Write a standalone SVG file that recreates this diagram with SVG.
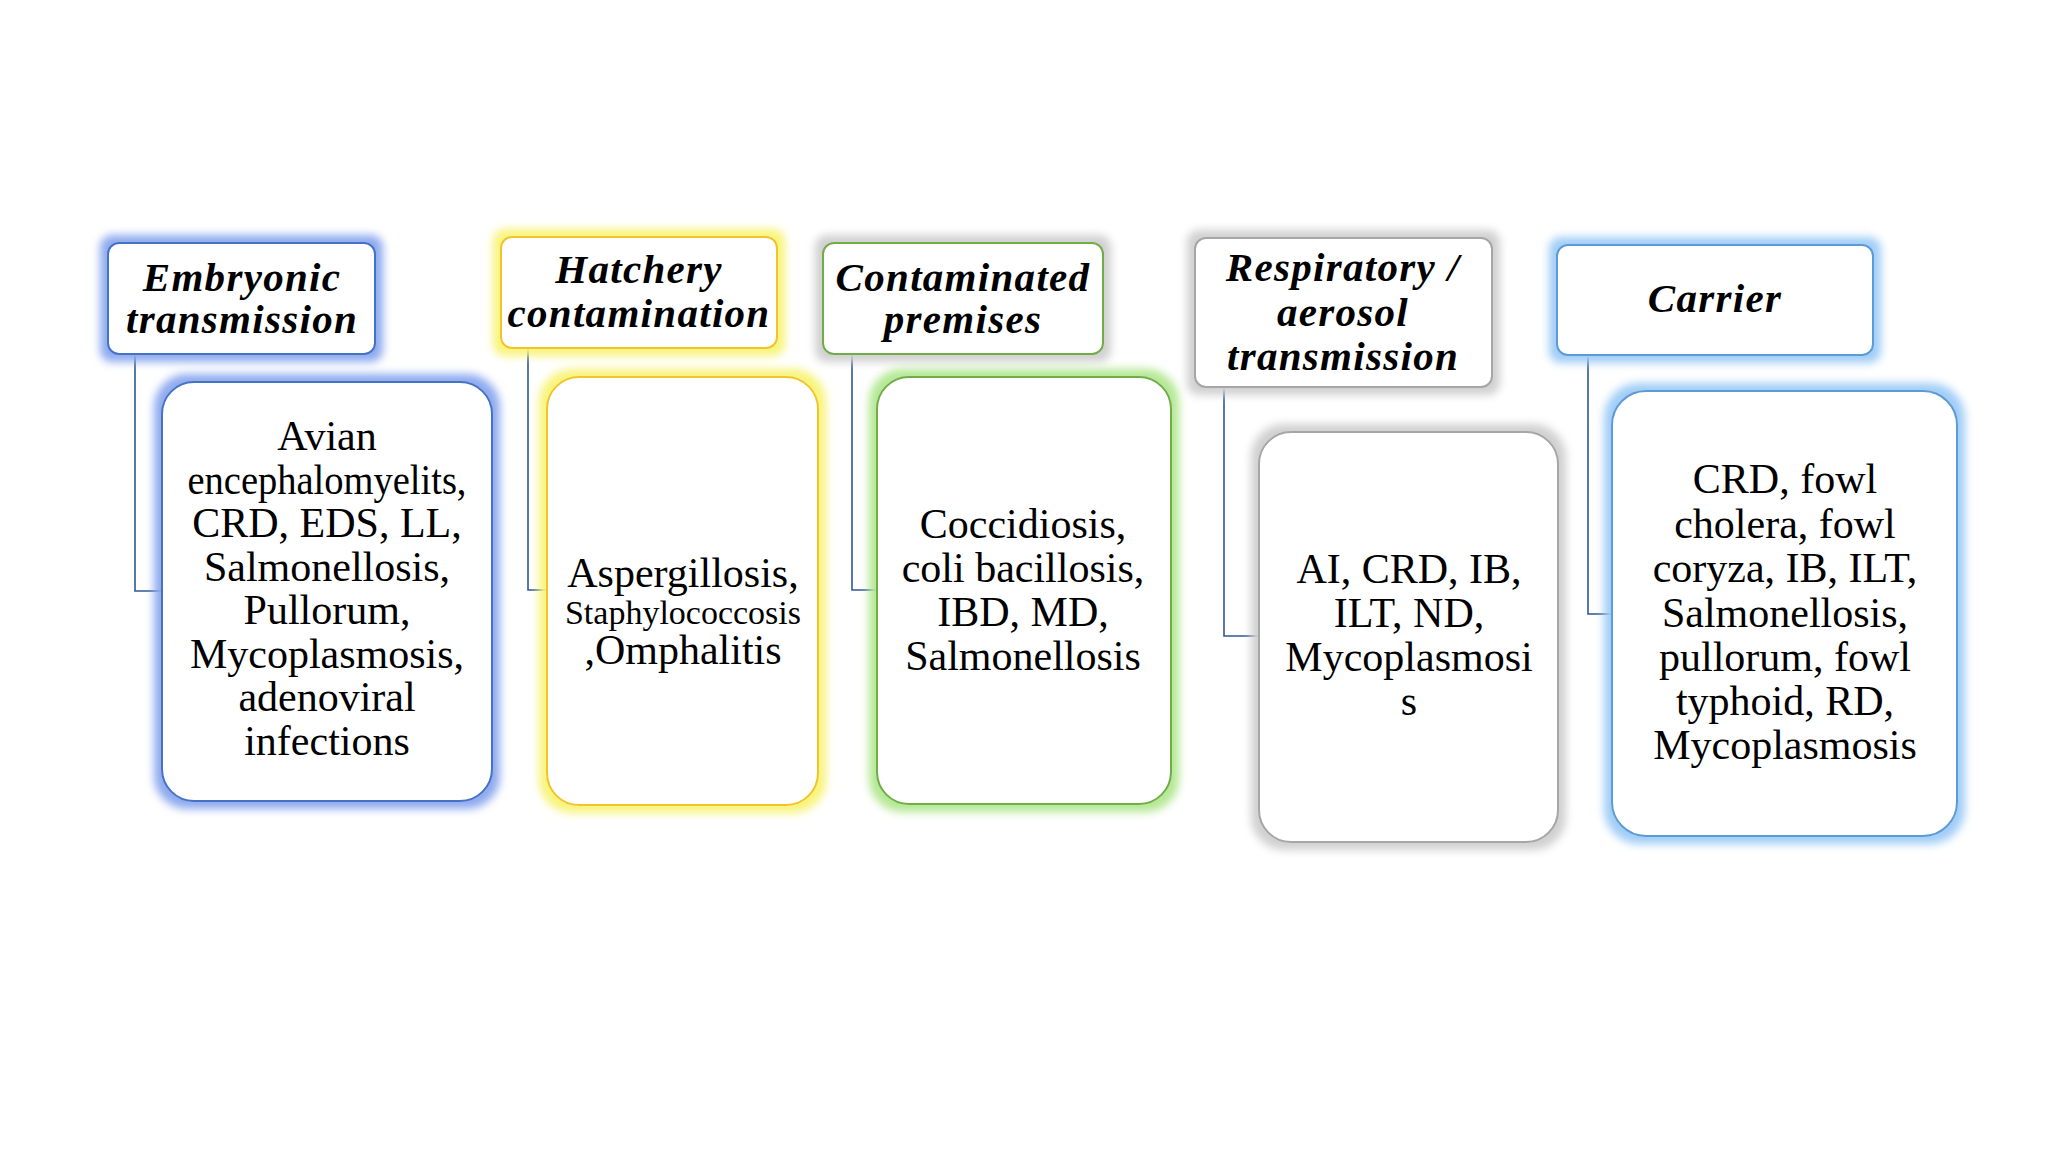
<svg xmlns="http://www.w3.org/2000/svg" width="2048" height="1152" viewBox="0 0 2048 1152">
<defs>
<filter id="gBlue" x="-20%" y="-20%" width="140%" height="140%">
<feMorphology in="SourceAlpha" operator="dilate" radius="7" result="d"/>
<feGaussianBlur in="d" stdDeviation="4" result="b"/>
<feFlood flood-color="#8eaaef"/>
<feComposite in2="b" operator="in" result="g"/>
<feMerge><feMergeNode in="g"/><feMergeNode in="SourceGraphic"/></feMerge>
</filter>
<filter id="gYellow" x="-20%" y="-20%" width="140%" height="140%">
<feMorphology in="SourceAlpha" operator="dilate" radius="7" result="d"/>
<feGaussianBlur in="d" stdDeviation="4" result="b"/>
<feFlood flood-color="#f8f47a"/>
<feComposite in2="b" operator="in" result="g"/>
<feMerge><feMergeNode in="g"/><feMergeNode in="SourceGraphic"/></feMerge>
</filter>
<filter id="gGreen" x="-20%" y="-20%" width="140%" height="140%">
<feMorphology in="SourceAlpha" operator="dilate" radius="7" result="d"/>
<feGaussianBlur in="d" stdDeviation="4" result="b"/>
<feFlood flood-color="#b4e894"/>
<feComposite in2="b" operator="in" result="g"/>
<feMerge><feMergeNode in="g"/><feMergeNode in="SourceGraphic"/></feMerge>
</filter>
<filter id="gGray" x="-20%" y="-20%" width="140%" height="140%">
<feMorphology in="SourceAlpha" operator="dilate" radius="7" result="d"/>
<feGaussianBlur in="d" stdDeviation="4" result="b"/>
<feFlood flood-color="#d0d0d0"/>
<feComposite in2="b" operator="in" result="g"/>
<feMerge><feMergeNode in="g"/><feMergeNode in="SourceGraphic"/></feMerge>
</filter>
<filter id="gSky" x="-20%" y="-20%" width="140%" height="140%">
<feMorphology in="SourceAlpha" operator="dilate" radius="7" result="d"/>
<feGaussianBlur in="d" stdDeviation="4" result="b"/>
<feFlood flood-color="#a0cdf7"/>
<feComposite in2="b" operator="in" result="g"/>
<feMerge><feMergeNode in="g"/><feMergeNode in="SourceGraphic"/></feMerge>
</filter>
</defs>
<style>
.hd{fill:#fff;stroke-width:2}
.bd{fill:#fff;stroke-width:2}
.ht{font-family:"Liberation Serif","Times New Roman",serif;font-weight:bold;font-style:italic;font-size:41px;letter-spacing:1.3px;text-anchor:middle;fill:#000}
.bt{font-family:"Liberation Serif","Times New Roman",serif;font-size:42px;text-anchor:middle;fill:#000}
.sm{font-size:34px}
.cn{fill:none;stroke:#2f5597;stroke-width:1.6}
</style>
<rect width="2048" height="1152" fill="#fff"/>
<g id="connectors">
<path class="cn" d="M135 354V591H162"/>
<path class="cn" d="M528 348V590H547"/>
<path class="cn" d="M852 354V590H877"/>
<path class="cn" d="M1224 387V636H1259"/>
<path class="cn" d="M1588 355V614H1612"/>
</g>
<g id="embryonic-header">
<rect class="hd" x="108" y="243" width="267" height="111" rx="11" stroke="#4472c4" filter="url(#gBlue)"/>
<text class="ht" x="242" y="291">Embryonic</text>
<text class="ht" x="242" y="333">transmission</text>
</g>
<g id="embryonic-body">
<rect class="bd" x="162" y="382" width="330" height="419" rx="32" stroke="#4472c4" filter="url(#gBlue)"/>
<text class="bt" x="327" y="450">Avian</text>
<text class="bt" x="327" y="493.5" textLength="279" lengthAdjust="spacingAndGlyphs">encephalomyelits,</text>
<text class="bt" x="327" y="537">CRD, EDS, LL,</text>
<text class="bt" x="327" y="580.5">Salmonellosis,</text>
<text class="bt" x="327" y="624">Pullorum,</text>
<text class="bt" x="327" y="667.5">Mycoplasmosis,</text>
<text class="bt" x="327" y="711">adenoviral</text>
<text class="bt" x="327" y="754.5">infections</text>
</g>
<g id="hatchery-header">
<rect class="hd" x="501" y="237" width="276" height="111" rx="11" stroke="#f2c42b" filter="url(#gYellow)"/>
<text class="ht" x="639" y="283">Hatchery</text>
<text class="ht" x="639" y="327">contamination</text>
</g>
<g id="hatchery-body">
<rect class="bd" x="547" y="377" width="271" height="428" rx="32" stroke="#f2c42b" filter="url(#gYellow)"/>
<text class="bt" x="683" y="587">Aspergillosis,</text>
<text class="bt sm" x="683" y="624">Staphylococcosis</text>
<text class="bt" x="683" y="664">,Omphalitis</text>
</g>
<g id="premises-header">
<rect class="hd" x="823" y="243" width="280" height="111" rx="11" stroke="#70ad47" filter="url(#gGray)"/>
<text class="ht" x="963" y="291">Contaminated</text>
<text class="ht" x="963" y="333">premises</text>
</g>
<g id="premises-body">
<rect class="bd" x="877" y="377" width="294" height="427" rx="32" stroke="#70ad47" filter="url(#gGreen)"/>
<text class="bt" x="1023" y="538">Coccidiosis,</text>
<text class="bt" x="1023" y="582">coli bacillosis,</text>
<text class="bt" x="1023" y="626">IBD, MD,</text>
<text class="bt" x="1023" y="670">Salmonellosis</text>
</g>
<g id="respiratory-header">
<rect class="hd" x="1195" y="238" width="297" height="149" rx="11" stroke="#a6a6a6" filter="url(#gGray)"/>
<text class="ht" x="1343" y="281">Respiratory /</text>
<text class="ht" x="1343" y="326">aerosol</text>
<text class="ht" x="1343" y="370">transmission</text>
</g>
<g id="respiratory-body">
<rect class="bd" x="1259" y="432" width="299" height="410" rx="32" stroke="#a6a6a6" filter="url(#gGray)"/>
<text class="bt" x="1409" y="583">AI, CRD, IB,</text>
<text class="bt" x="1409" y="627">ILT, ND,</text>
<text class="bt" x="1409" y="671">Mycoplasmosi</text>
<text class="bt" x="1409" y="715">s</text>
</g>
<g id="carrier-header">
<rect class="hd" x="1557" y="245" width="316" height="110" rx="11" stroke="#5b9bd5" filter="url(#gSky)"/>
<text class="ht" x="1715" y="312">Carrier</text>
</g>
<g id="carrier-body">
<rect class="bd" x="1612" y="391" width="345" height="445" rx="34" stroke="#5b9bd5" filter="url(#gSky)"/>
<text class="bt" x="1785" y="493">CRD, fowl</text>
<text class="bt" x="1785" y="538">cholera, fowl</text>
<text class="bt" x="1785" y="582">coryza, IB, ILT,</text>
<text class="bt" x="1785" y="627">Salmonellosis,</text>
<text class="bt" x="1785" y="671">pullorum, fowl</text>
<text class="bt" x="1785" y="715">typhoid, RD,</text>
<text class="bt" x="1785" y="759">Mycoplasmosis</text>
</g>
</svg>
